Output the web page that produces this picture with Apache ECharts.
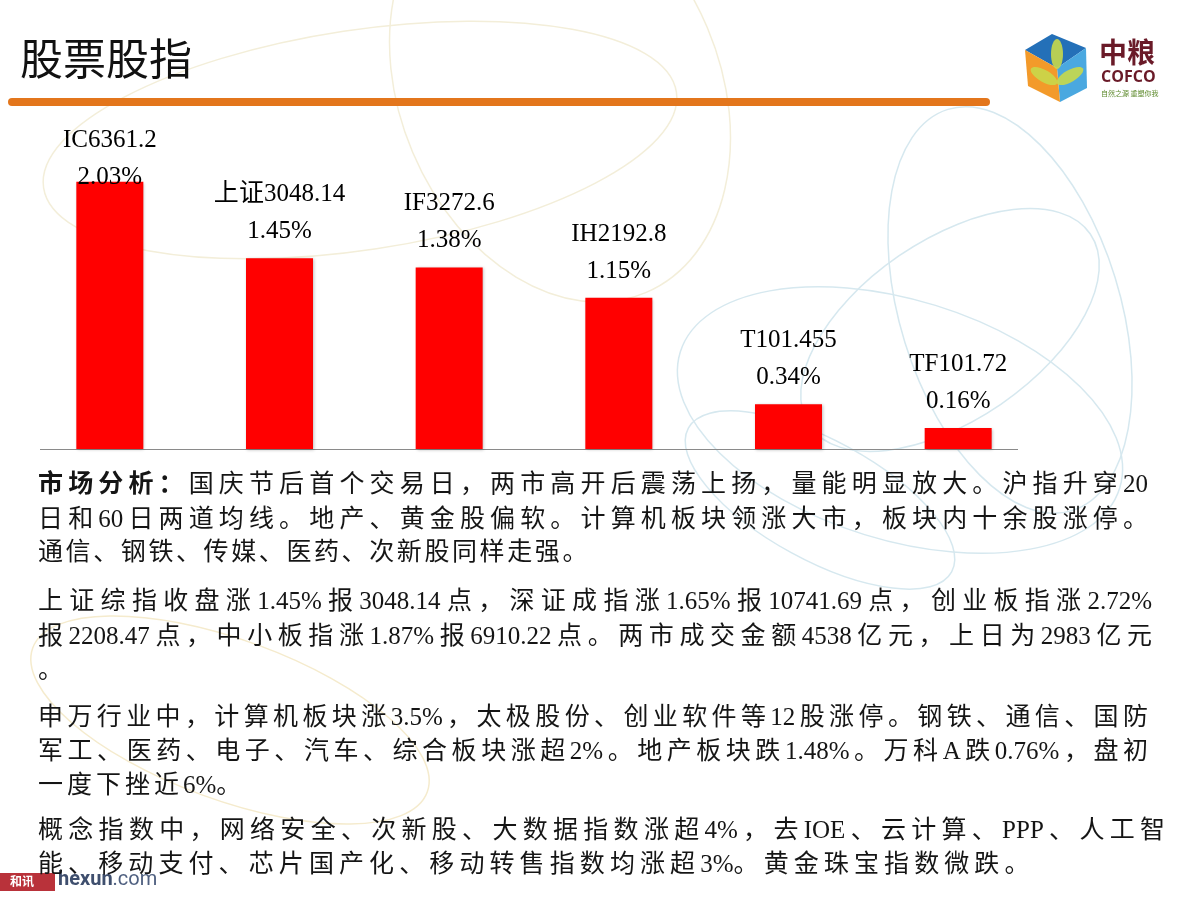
<!DOCTYPE html>
<html>
<head>
<meta charset="utf-8">
<script src="https://cdn.jsdelivr.net/npm/echarts@6/dist/echarts.min.js"></script>
<style>
html, body { margin: 0; padding: 0; background: #fff; }
#chart { position: absolute; left: 0; top: 0; width: 1200px; height: 900px; }
.line {
  position: absolute; left: 38px; width: 1110px; height: 34px; line-height: 34px;
  font-size: 25px; font-family: "Liberation Serif", "Noto Sans CJK SC", serif;
  color: #151515; white-space: nowrap;
}
.full { text-align: justify; text-align-last: justify; }
.n { letter-spacing: 0; }
</style>
</head>
<body>
<div id="chart"></div>

<div class="line full" style="top:467px"><b>市场分析：</b>国庆节后首个交易日，两市高开后震荡上扬，量能明显放大。沪指升穿20</div>
<div class="line full" style="top:502px">日和60日两道均线。地产、黄金股偏软。计算机板块领涨大市，板块内十余股涨停。</div>
<div class="line" style="top:535px;letter-spacing:2.6px">通信、钢铁、传媒、医药、次新股同样走强。</div>

<div class="line full" style="top:584px;width:1114px">上证综指收盘涨1.45%报3048.14点，深证成指涨1.65%报10741.69点，创业板指涨2.72%</div>
<div class="line full" style="top:619px;width:1114px">报2208.47点，中小板指涨1.87%报6910.22点。两市成交金额4538亿元，上日为2983亿元</div>
<div class="line" style="top:653px">。</div>

<div class="line full" style="top:700px">申万行业中，计算机板块涨3.5%，太极股份、创业软件等12股涨停。钢铁、通信、国防</div>
<div class="line full" style="top:734px">军工、医药、电子、汽车、综合板块涨超2%。地产板块跌1.48%。万科A跌0.76%，盘初</div>
<div class="line" style="top:768px;letter-spacing:4px">一度下挫近<span class="n">6%</span>。</div>

<div class="line full" style="top:813px;width:1127px">概念指数中，网络安全、次新股、大数据指数涨超4%，去IOE、云计算、PPP、人工智</div>
<div class="line" style="top:847px;letter-spacing:5.1px">能、移动支付、芯片国产化、移动转售指数均涨超<span class="n">3%</span>。黄金珠宝指数微跌。</div>

<script>
// 品种、收盘点位、涨幅(%)
const categories = ['IC', '上证', 'IF', 'IH', 'T', 'TF']
const closes = ['6361.2', '3048.14', '3272.6', '2192.8', '101.455', '101.72']
const changes = [2.03, 1.45, 1.38, 1.15, 0.34, 0.16]

const chart = echarts.init(document.getElementById('chart'))

const labelFont = '"Liberation Serif", "Noto Sans CJK SC", serif'

// IC 的标签被版面压低，和柱顶重叠
const seriesData = changes.map((v, i) =>
  i === 0 ? { value: v, label: { offset: [0, 22] } } : v
)

// 背景装饰线
const bgCurves = [
  { cx: 950, cy: 330, rx: 170, ry: 90, rot: 0.6, c: '#d6e8ef' },
  { cx: 900, cy: 420, rx: 230, ry: 120, rot: -0.3, c: '#d6e8ef' },
  { cx: 1010, cy: 310, rx: 110, ry: 210, rot: 0.3, c: '#d6e8ef' },
  { cx: 820, cy: 500, rx: 150, ry: 60, rot: -0.5, c: '#d6e8ef' },
  { cx: 360, cy: 140, rx: 320, ry: 110, rot: 0.15, c: '#f3eed9' },
  { cx: 560, cy: 90, rx: 160, ry: 220, rot: 0.4, c: '#f3eed9' },
  { cx: 230, cy: 720, rx: 210, ry: 80, rot: -0.35, c: '#f5ebcd' }
].map((e) => ({
  type: 'ellipse',
  shape: { cx: e.cx, cy: e.cy, rx: e.rx, ry: e.ry },
  rotation: e.rot,
  originX: e.cx,
  originY: e.cy,
  style: { fill: 'none', stroke: e.c, lineWidth: 1.5 },
  z: -10,
  silent: true
}))

const C = [1057, 68]
const logo = [
  { type: 'polygon', shape: { points: [[1025, 50], [1052, 34], [1086, 48], C] }, style: { fill: '#2470b8' } },
  { type: 'polygon', shape: { points: [[1086, 48], [1087, 88], [1060, 102], C] }, style: { fill: '#4aa8e0' } },
  { type: 'polygon', shape: { points: [[1025, 50], C, [1060, 102], [1028, 86]] }, style: { fill: '#f39a2a' } },
  { type: 'ellipse', shape: { cx: 1057, cy: 54, rx: 6, ry: 15 }, style: { fill: '#c9d84a', opacity: 0.9 } },
  { type: 'ellipse', shape: { cx: 1044, cy: 76, rx: 6, ry: 15 }, rotation: 1.05, originX: 1044, originY: 76, style: { fill: '#c9d84a', opacity: 0.9 } },
  { type: 'ellipse', shape: { cx: 1070, cy: 76, rx: 6, ry: 15 }, rotation: -1.05, originX: 1070, originY: 76, style: { fill: '#c9d84a', opacity: 0.9 } },
  { type: 'text', x: 1099, y: 38, style: { text: '中粮', fill: '#6a1a28', font: 'bold 28px "Noto Sans CJK SC"' } },
  { type: 'text', x: 1101, y: 69, style: { text: 'COFCO', fill: '#6a1a28', font: 'bold 16px "Open Sans"' } },
  { type: 'text', x: 1101, y: 90, style: { text: '自然之源 重塑你我', fill: '#5d8a2c', font: '7px "Noto Sans CJK SC"' } }
]

chart.setOption({
  backgroundColor: '#fff',
  animation: false,
  grid: { left: 25, right: 157, top: 120, bottom: 451 },
  xAxis: {
    type: 'category',
    data: categories,
    axisLine: { show: false },
    axisTick: { show: false },
    axisLabel: { show: false }
  },
  yAxis: { type: 'value', min: 0, max: 2.5, show: false, splitLine: { show: false } },
  series: [
    {
      type: 'bar',
      barWidth: 67,
      data: seriesData,
      itemStyle: {
        color: '#ff0000',
        shadowColor: 'rgba(0,0,0,0.25)',
        shadowBlur: 3,
        shadowOffsetX: 1,
        shadowOffsetY: 1
      },
      label: {
        show: true,
        position: 'top',
        distance: 8,
        formatter: (p) =>
          `{a|${categories[p.dataIndex]}${closes[p.dataIndex]}}\n{a|${changes[p.dataIndex].toFixed(2)}%}`,
        rich: {
          a: { fontSize: 25, lineHeight: 37, color: '#000', fontFamily: labelFont }
        }
      }
    }
  ],
  graphic: [
    ...bgCurves,
    { type: 'text', x: 20, y: 37, style: { text: '股票股指', fill: '#111', font: '43px "Noto Sans CJK SC"' } },
    { type: 'rect', shape: { x: 8, y: 98, width: 982, height: 8, r: 4 }, style: { fill: '#e3761c' } },
    { type: 'line', shape: { x1: 40, y1: 449.5, x2: 1018, y2: 449.5 }, style: { stroke: '#8a8a8a', lineWidth: 1 } },
    ...logo,
    { type: 'rect', shape: { x: 0, y: 873, width: 55, height: 18 }, style: { fill: '#b9323a' } },
    { type: 'text', x: 10, y: 875, style: { text: '和讯', fill: '#fff', font: 'bold 12px "Noto Sans CJK SC"' } },
    {
      type: 'text', x: 58, y: 870,
      style: {
        text: '{b|hexun}{c|.com}',
        rich: {
          b: { fontSize: 20, fontWeight: 'bold', fill: '#3f4f6e', fontFamily: 'Roboto' },
          c: { fontSize: 20, fill: '#4f6080', fontFamily: 'Roboto' }
        }
      }
    }
  ]
})
</script>
</body>
</html>
